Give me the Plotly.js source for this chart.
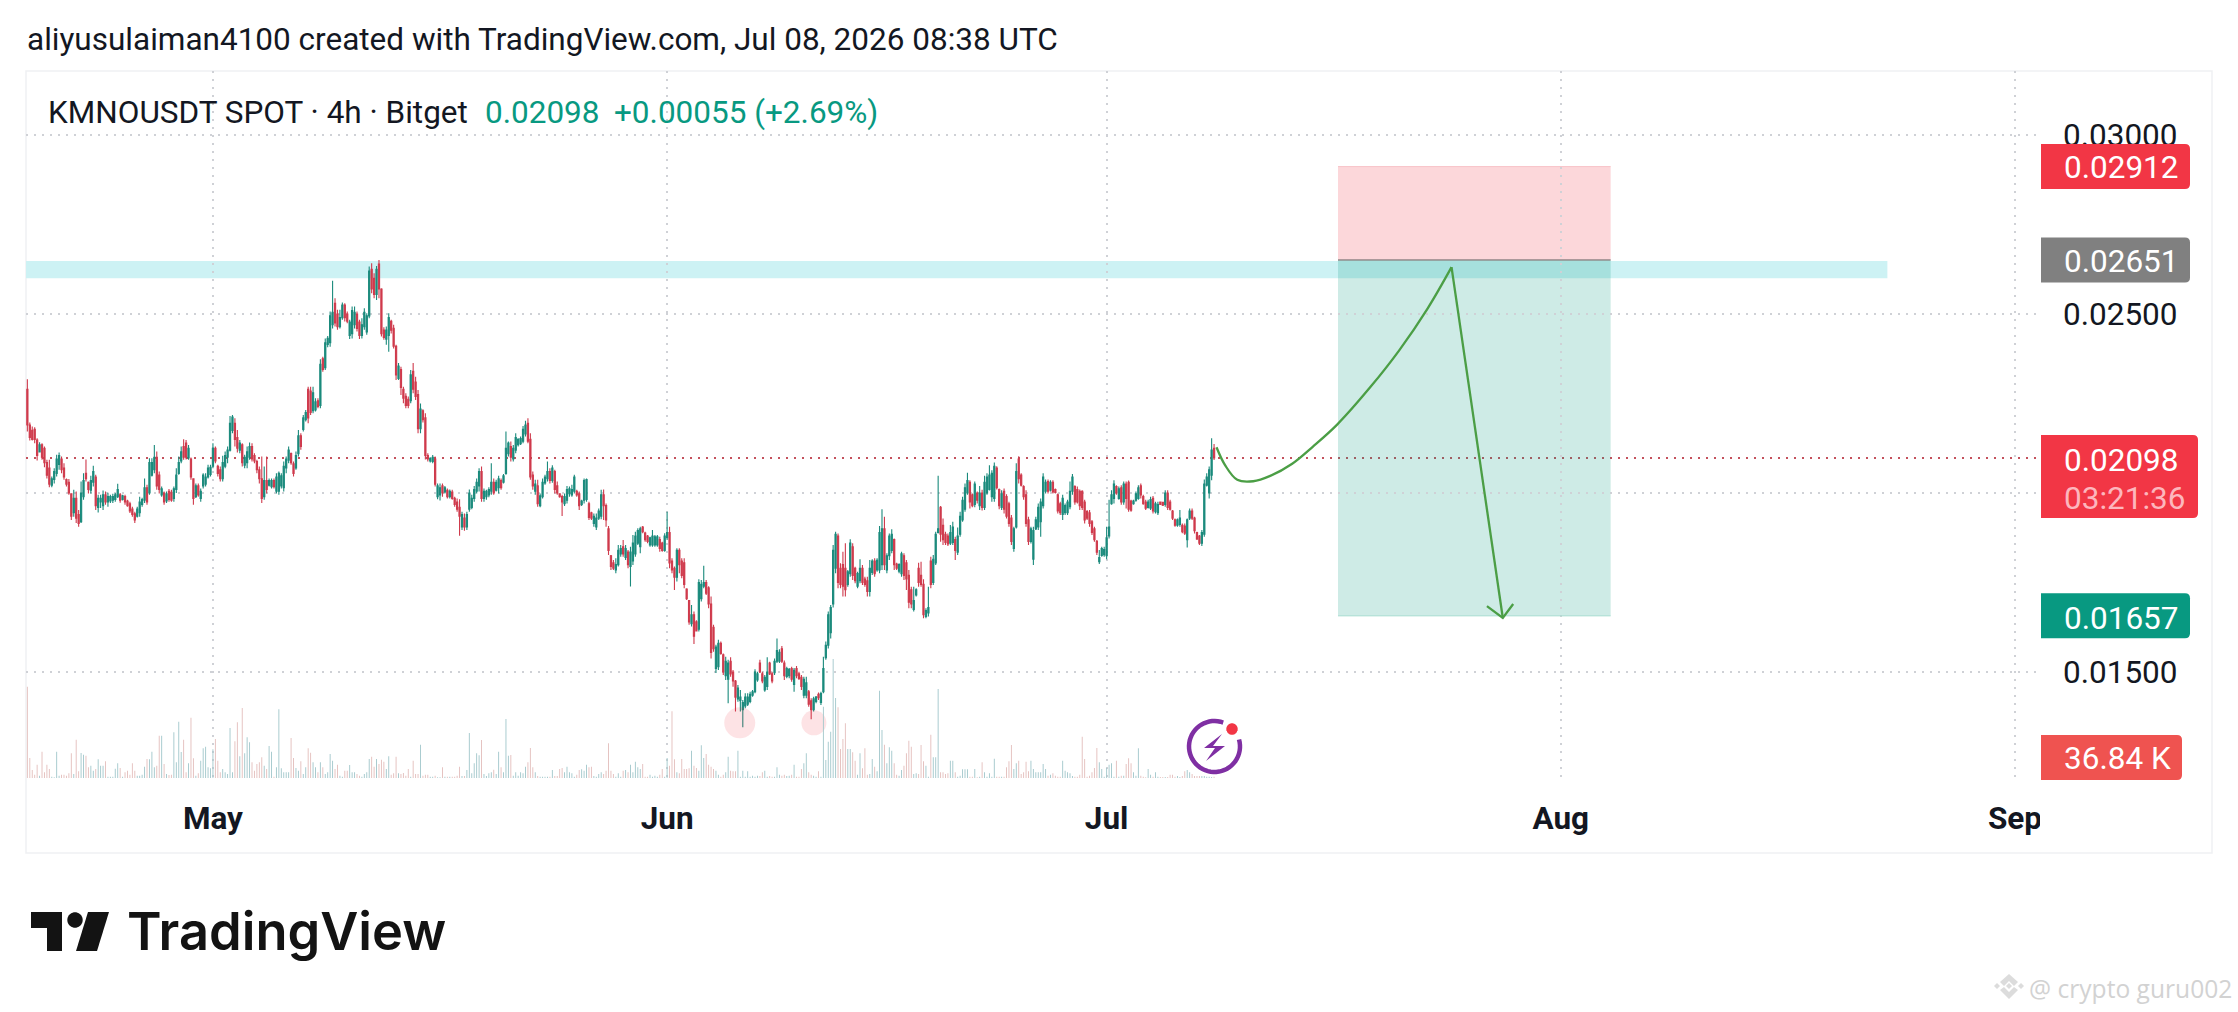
<!DOCTYPE html>
<html><head><meta charset="utf-8">
<script src="https://cdn.plot.ly/plotly-3.0.1.min.js"></script>
<style>html,body{margin:0;padding:0;background:#fff;overflow:hidden}#c{width:2238px;height:1012px}</style>
</head><body><div id="c"></div>
<script>
// Prices are in units of 0.00001 USDT. One 4h candle per entry, from firstCandle on.
const UNIT = 1e-5;
const firstCandle = '2026-04-18T08:00:00Z';
const high = [
2318,2197,2186,2184,2153,2142,2139,2130,2093,2093,
2046,2069,2107,2113,2102,2083,2041,2039,1999,2009,
2004,1953,2032,2055,2094,2032,2048,2076,2051,1995,
1995,2007,2004,2001,1995,1998,2000,2026,2000,1995,
1995,1981,1976,1962,1948,1962,1990,1987,2041,2023,
2097,2097,2134,2116,2060,2018,2004,2004,2011,2009,
2018,2069,2102,2130,2150,2148,2134,2099,2041,2027,
2027,2013,2055,2055,2079,2079,2139,2130,2079,2074,
2104,2116,2130,2215,2218,2209,2176,2148,2139,2107,
2130,2141,2139,2111,2093,2074,2102,2074,2102,2041,
2041,2041,2055,2060,2055,2088,2102,2130,2113,2088,
2116,2176,2167,2218,2232,2297,2297,2297,2265,2265,
2374,2381,2432,2439,2507,2593,2544,2512,2512,2532,
2530,2507,2484,2521,2521,2507,2484,2488,2516,2502,
2633,2642,2614,2634,2651,2572,2463,2465,2502,2484,
2470,2414,2363,2353,2297,2279,2270,2344,2363,2325,
2288,2250,2234,2223,2111,2100,2106,2102,2027,2027,
2027,2020,2013,2010,2009,1990,1985,1983,1948,1943,
1948,2010,1995,2020,2041,2069,2074,2013,2009,2016,
2083,2041,2037,2048,2041,2053,2172,2144,2144,2134,
2167,2153,2158,2187,2202,2209,2167,2060,2037,2037,
1999,2041,2051,2088,2069,2078,2065,2032,1999,1995,
1999,2020,2018,2023,2051,2009,2004,1981,2041,2041,
1976,1948,1943,1943,1957,2009,2010,1971,1908,1827,
1813,1818,1855,1855,1869,1855,1841,1850,1883,1892,
1902,1906,1908,1892,1883,1878,1897,1883,1883,1878,
1864,1888,1948,1906,1818,1795,1846,1846,1818,1818,
1734,1701,1687,1669,1645,1759,1757,1797,1757,1740,
1711,1632,1576,1590,1585,1552,1543,1534,1541,1506,
1478,1464,1450,1422,1441,1441,1445,1450,1508,1501,
1534,1501,1492,1541,1529,1501,1538,1594,1564,1573,
1532,1515,1511,1515,1511,1517,1501,1492,1487,1487,
1450,1427,1431,1433,1443,1445,1543,1585,1669,1687,
1855,1892,1887,1804,1836,1860,1785,1871,1860,1794,
1780,1815,1799,1766,1766,1813,1815,1818,1818,1908,
1955,1934,1832,1887,1899,1873,1805,1804,1836,1832,
1813,1785,1738,1738,1734,1805,1808,1759,1678,1738,
1822,1827,1892,2048,1964,1929,1892,1887,1911,1920,
1878,1904,1948,1990,2027,2057,2036,1999,2032,2004,
2020,2009,2048,2055,2078,2064,2085,2075,2013,2008,
2013,1997,1976,1939,1906,2083,2103,2055,2022,2008,
1934,1906,1906,1934,1971,1985,2055,2038,2038,2036,
2036,2013,1999,1976,1995,1971,1981,2032,2053,2022,
2018,2010,2008,1981,1953,1953,1925,1906,1869,1841,
1850,1850,1906,1981,2008,2036,2022,2018,2022,2032,
2032,2035,1981,1981,2004,2022,2027,1995,1981,1981,
1990,1992,1976,1976,1976,1976,2008,2008,1981,1953,
1929,1929,1953,1915,1915,1929,1957,1957,1934,1892,
1883,1897,2038,2055,2074,2153,2137];
const low = [
2172,2147,2147,2139,2091,2113,2093,2072,2041,2016,
2016,2027,2046,2065,2055,2037,2018,1995,1925,1934,
1916,1906,1916,1981,2032,1999,1999,2018,1953,1946,
1958,1953,1967,1962,1972,1972,1976,1986,1973,1979,
1967,1962,1944,1934,1916,1932,1934,1962,1972,1967,
1995,2046,2055,2009,1999,1990,1967,1972,1976,1976,
1976,2000,2051,2083,2093,2094,2093,2037,1967,1986,
1990,1976,2013,2018,2041,2046,2069,2083,2046,2032,
2032,2069,2083,2116,2167,2130,2113,2111,2074,2069,
2069,2093,2088,2083,2055,2027,1972,1981,1999,2018,
2013,2013,1999,1995,2013,2004,2055,2083,2079,2046,
2065,2102,2121,2172,2200,2195,2218,2223,2228,2237,
2237,2339,2344,2407,2409,2460,2465,2456,2460,2484,
2479,2474,2430,2432,2460,2451,2430,2432,2456,2442,
2488,2558,2544,2539,2544,2437,2428,2414,2395,2446,
2404,2316,2316,2274,2251,2237,2237,2251,2279,2260,
2167,2167,2197,2094,2088,2085,2083,2018,1983,1979,
1990,1999,1985,1985,1981,1962,1948,1881,1897,1895,
1897,1948,1955,1976,1999,2004,1976,1976,1981,1988,
1995,1995,2004,1999,2009,2027,2051,2102,2088,2088,
2111,2130,2134,2139,2158,2139,2037,2009,1995,1962,
1960,1985,2023,2032,2027,2029,1999,1995,1987,1936,
1964,1971,1990,1990,1999,1990,1953,1964,1971,1976,
1925,1925,1906,1897,1925,1927,1925,1906,1827,1785,
1785,1776,1795,1822,1822,1813,1790,1739,1799,1822,
1855,1832,1888,1864,1860,1850,1850,1850,1850,1836,
1836,1836,1869,1790,1776,1729,1753,1776,1762,1734,
1701,1632,1627,1578,1613,1613,1697,1734,1715,1678,
1538,1557,1497,1506,1548,1492,1478,1413,1487,1459,
1390,1417,1390,1346,1399,1405,1413,1431,1441,1473,
1497,1469,1445,1450,1492,1469,1492,1525,1525,1525,
1478,1483,1483,1473,1445,1483,1478,1450,1427,1427,
1403,1368,1390,1413,1422,1408,1441,1534,1566,1594,
1680,1776,1734,1734,1711,1711,1738,1766,1757,1748,
1734,1748,1743,1738,1711,1711,1771,1766,1780,1776,
1785,1785,1776,1813,1832,1785,1785,1776,1766,1757,
1729,1678,1678,1669,1711,1738,1738,1650,1650,1655,
1734,1743,1799,1887,1864,1855,1855,1852,1855,1855,
1813,1827,1878,1920,1948,1995,1957,1960,1960,1971,
1953,1951,1953,1995,2007,1976,1976,2010,1955,1953,
1943,1929,1906,1855,1836,1901,2027,2018,1981,1906,
1855,1859,1799,1897,1897,1878,1957,1999,1999,2004,
1999,1999,1943,1939,1925,1939,1939,1955,1995,1967,
1971,1953,1953,1915,1925,1906,1883,1864,1827,1802,
1822,1822,1815,1873,1967,1971,1995,1981,1967,1967,
1957,1948,1948,1967,1976,1981,1985,1967,1953,1957,
1953,1943,1943,1939,1967,1964,1962,1953,1951,1925,
1906,1906,1906,1888,1883,1848,1925,1925,1887,1869,
1855,1852,1878,2018,1985,2036,2092];
const open = [
2290,2190,2175,2178,2148,2115,2135,2125,2085,2070,
2022,2038,2055,2080,2095,2070,2038,2030,1998,1945,
1985,1940,1920,1990,2055,2030,2008,2030,2045,1960,
1975,1965,1995,1975,1978,1980,1982,1990,1995,1982,
1990,1978,1970,1955,1942,1935,1945,1968,1980,2015,
2000,2050,2065,2100,2050,1995,2000,1978,2005,2002,
1985,2010,2055,2090,2130,2140,2098,2095,2040,1990,
2020,1985,2020,2025,2045,2052,2075,2125,2075,2065,
2040,2075,2100,2120,2175,2195,2155,2120,2135,2078,
2085,2100,2130,2105,2088,2065,2040,1990,2035,2022,
2018,2035,2005,2005,2020,2015,2070,2092,2110,2082,
2070,2110,2160,2178,2205,2290,2285,2230,2232,2258,
2245,2375,2350,2415,2420,2470,2530,2500,2465,2490,
2525,2500,2440,2445,2470,2500,2478,2440,2465,2450,
2495,2625,2600,2555,2640,2570,2455,2430,2440,2480,
2460,2410,2320,2345,2290,2270,2262,2258,2340,2310,
2275,2180,2230,2210,2105,2090,2088,2095,1990,1995,
2020,2003,2008,1990,2003,1985,1975,1960,1905,1930,
1905,1955,1960,1985,2005,2020,2060,1985,1990,1995,
2005,2030,2008,2015,2035,2030,2055,2110,2130,2095,
2120,2135,2138,2145,2165,2195,2150,2050,2005,2020,
1965,1990,2028,2040,2060,2035,2060,2020,1998,1990,
1970,1980,1998,1995,2005,2005,1998,1968,1980,1982,
1970,1945,1915,1905,1930,1935,1995,1965,1900,1825,
1805,1785,1800,1830,1850,1820,1835,1795,1810,1830,
1860,1850,1905,1888,1880,1855,1855,1855,1855,1870,
1860,1840,1875,1890,1810,1790,1765,1840,1810,1805,
1732,1700,1635,1660,1640,1620,1705,1740,1750,1735,
1690,1625,1510,1515,1580,1548,1490,1480,1530,1500,
1475,1425,1420,1395,1405,1410,1418,1435,1445,1478,
1525,1495,1450,1460,1525,1495,1498,1530,1530,1565,
1525,1488,1490,1510,1465,1510,1495,1485,1435,1435,
1445,1420,1395,1418,1438,1415,1445,1540,1575,1610,
1690,1790,1880,1790,1800,1790,1745,1775,1850,1790,
1740,1755,1790,1760,1755,1725,1778,1810,1785,1785,
1800,1900,1785,1825,1840,1870,1802,1782,1775,1825,
1805,1770,1730,1675,1715,1790,1770,1745,1655,1665,
1810,1750,1805,1890,1960,1910,1885,1880,1860,1862,
1870,1835,1885,1925,1955,2000,2030,1995,1968,2000,
1965,2000,1960,2000,2010,1990,1985,2070,2010,1960,
2005,1990,1970,1930,1845,1905,2095,2050,2018,1995,
1925,1865,1815,1900,1905,1920,1965,2005,2032,2008,
2030,2010,1995,1970,1940,1945,1945,1962,2005,2018,
2010,2005,2005,1975,1948,1945,1920,1900,1865,1808,
1826,1828,1825,1880,1970,1985,2018,1985,2015,1975,
2025,2030,1978,1970,1980,1985,2020,1990,1975,1960,
1958,1985,1948,1945,1975,1974,1968,2000,1975,1950,
1925,1910,1912,1910,1908,1870,1930,1950,1930,1890,
1880,1860,1885,2022,2000,2050,2125];
const close = [
2190,2155,2150,2150,2105,2135,2100,2085,2050,2025,
2040,2060,2095,2105,2065,2045,2025,2000,1935,1985,
1930,1915,2000,2035,2040,2010,2035,2060,1965,1985,
1985,1995,1975,1990,1990,1990,1995,2010,1980,1992,
1975,1965,1950,1940,1925,1955,1975,1982,2015,1975,
2085,2085,2100,2020,2010,2012,1975,1998,1982,1980,
2012,2050,2085,2115,2100,2100,2125,2045,1985,2020,
1995,2005,2050,2045,2070,2072,2125,2090,2055,2040,
2085,2105,2120,2195,2212,2150,2125,2140,2085,2100,
2115,2130,2095,2090,2065,2040,1985,2035,2010,2035,
2035,2018,2045,2055,2048,2075,2095,2120,2085,2055,
2105,2160,2130,2210,2225,2210,2225,2280,2255,2242,
2360,2345,2420,2432,2495,2505,2475,2465,2490,2525,
2490,2480,2478,2510,2505,2460,2440,2470,2505,2495,
2620,2570,2555,2625,2570,2445,2435,2455,2490,2455,
2410,2330,2355,2295,2265,2245,2245,2330,2290,2270,
2180,2235,2205,2105,2095,2097,2100,2025,2020,2015,
2000,2015,1990,2005,1985,1968,1955,1935,1940,1905,
1940,2000,1985,2010,2030,2060,1985,2005,2005,2010,
2030,2000,2030,2040,2015,2048,2125,2140,2100,2125,
2155,2150,2152,2178,2190,2145,2045,2020,2025,1970,
1992,2030,2045,2060,2035,2070,2010,2000,1990,1975,
1990,2010,2012,2010,2045,1995,1965,1978,2035,2038,
1932,1930,1935,1930,1950,1995,1965,1925,1840,1795,
1790,1800,1840,1845,1830,1845,1800,1835,1860,1880,
1895,1900,1892,1870,1865,1875,1880,1878,1878,1845,
1840,1880,1890,1805,1785,1765,1840,1800,1770,1745,
1705,1640,1660,1600,1615,1750,1745,1750,1720,1690,
1555,1565,1570,1580,1552,1500,1530,1525,1495,1475,
1430,1455,1430,1415,1430,1430,1438,1445,1500,1495,
1500,1475,1485,1500,1495,1475,1530,1560,1555,1530,
1490,1510,1508,1480,1505,1490,1482,1460,1480,1470,
1410,1395,1425,1430,1428,1440,1510,1575,1660,1680,
1840,1885,1750,1745,1740,1730,1780,1860,1770,1755,
1775,1790,1750,1745,1725,1790,1810,1775,1812,1890,
1900,1800,1825,1880,1885,1800,1790,1800,1830,1770,
1760,1695,1690,1700,1730,1750,1745,1660,1672,1680,
1745,1815,1885,1900,1885,1870,1862,1858,1890,1905,
1840,1880,1935,1980,2015,2035,1975,1965,2025,1980,
2000,1960,2030,2045,2050,2055,2075,2015,1965,1998,
1955,1935,1915,1865,1900,2060,2040,2022,1990,1915,
1865,1900,1895,1925,1960,1975,2045,2030,2005,2030,
2003,2002,1950,1945,1985,1965,1975,2005,2045,1975,
1975,1965,1960,1925,1930,1915,1890,1870,1835,1820,
1845,1842,1875,1905,1995,2025,2000,2012,1975,2025,
1985,1955,1952,1978,1998,2015,1995,1970,1958,1975,
1982,1950,1970,1968,1968,1966,2000,1960,1955,1930,
1910,1925,1930,1892,1888,1925,1950,1930,1895,1872,
1860,1890,2025,2045,2065,2120,2098];
// Volume per candle, in thousands of base units.
const volumeK = [
2740,600,240,100,400,70,790,170,400,270,
40,20,790,70,100,100,70,140,740,120,
1150,200,750,700,670,320,370,220,270,560,
370,370,500,40,40,40,280,440,300,40,
170,220,100,440,220,70,70,100,340,570,
560,790,320,370,1270,1270,420,120,90,100,
1370,470,1690,780,1150,170,440,1810,590,70,
140,520,890,940,320,290,860,1170,520,170,
270,170,120,1500,170,1100,1670,650,2100,740,
1220,1070,470,220,420,470,620,370,270,960,
790,40,320,2060,290,170,170,170,1200,600,
300,220,500,120,320,890,760,470,320,170,
470,320,120,170,720,520,270,400,70,40,
220,220,390,170,170,120,70,40,120,170,
570,640,340,570,420,550,490,270,650,100,
140,640,140,120,150,70,270,40,520,120,
120,1000,70,100,100,40,40,70,20,20,
320,40,40,40,40,40,70,340,60,60,
240,1350,140,440,740,680,1140,120,60,140,
170,250,120,790,320,170,1770,670,690,70,
170,70,170,140,340,470,900,320,170,60,
40,40,40,40,40,240,60,60,270,300,
170,340,170,140,40,100,240,260,220,400,
320,340,60,40,120,170,120,220,1040,220,
120,40,140,40,220,240,170,400,170,490,
320,270,420,40,40,100,40,70,40,100,
270,40,600,370,2000,560,170,140,570,270,
270,290,820,370,300,220,980,600,720,400,
340,270,220,100,40,100,170,640,220,200,
200,820,40,220,40,200,40,70,40,70,
60,170,220,40,60,40,40,320,100,70,
100,60,70,100,400,40,40,270,440,740,
170,100,70,40,200,40,2140,540,1090,1390,
3570,2400,2120,870,1170,1640,870,870,770,520,
100,740,290,890,100,120,570,340,200,2620,
1440,1000,440,920,820,440,100,70,240,370,
740,1120,940,120,140,120,990,500,370,40,
1300,620,620,2670,170,170,120,140,520,520,
170,40,70,260,260,260,40,40,270,20,
40,470,170,40,140,40,580,40,40,40,
40,320,500,990,270,440,520,120,170,490,
200,520,270,170,170,170,420,270,70,100,
140,70,40,40,520,220,170,140,60,40,
40,100,1240,570,40,70,170,300,900,470,
270,40,300,400,440,40,520,40,70,70,
420,590,440,170,70,890,70,40,20,270,
100,40,170,40,30,30,30,30,100,100,
40,60,30,60,200,240,170,120,60,60,
60,60,60,40,40,30,36.84];
const monthTicks = ['2026-05-01','2026-06-01','2026-07-01','2026-08-01','2026-09-01'];
const monthLabels = ['May','Jun','Jul','Aug','Sep'];
const priceTicks = [1500,2000,2500,3000];
// The 0.02000 label sits behind the last-price tag in the reference, so it has no visible text.
const priceTickLabels = ['0.01500','','0.02500','0.03000'];
const lastPrice = 2098;
const stopPrice = 2912, entryPrice = 2651, targetPrice = 1657;
const boxStart = '2026-07-16T19:00:00Z', boxEnd = '2026-08-04T09:40:00Z';
const zoneTop = 2648, zoneBottom = 2600, zoneEnd = '2026-08-23T07:00:00Z';
const dipDates = ['2026-06-05T23:00:00Z','2026-06-11T00:30:00Z'];
const dipPrices = [1358,1358];
const dipSizes = [31,25];
const pathDates = ['2026-07-08T12:00:00Z','2026-07-09T02:00:00Z','2026-07-09T22:00:00Z','2026-07-11T00:00:00Z','2026-07-12T04:00:00Z','2026-07-13T16:00:00Z','2026-07-15T02:00:00Z','2026-07-16T18:00:00Z','2026-07-19T00:00:00Z','2026-07-20T23:00:00Z','2026-07-22T22:00:00Z','2026-07-24T13:00:00Z'];
const pathPrices = [2128,2078,2037,2033,2048,2082,2130,2192,2296,2398,2516,2631];
const dropDates = ['2026-07-24T13:00:00Z','2026-07-28T01:00:00Z'];
const dropPrices = [2631,1651];
const headDates = ['2026-07-26T23:00:00Z','2026-07-28T01:00:00Z','2026-07-28T18:00:00Z'];
const headPrices = [1684,1651,1690];

const W=2238,H=1012,L=26,R=2040,T=71,B=778;
const px=x=>(x-L)/(R-L), py=y=>(B-y)/(B-T);
const FONT='Roboto, sans-serif';
const GREEN='#089981',RED='#f23645';
const t0=Date.parse(firstCandle);
const dates=high.map((_,i)=>new Date(t0+i*4*3600e3).toISOString());
const p=a=>a.map(v=>v*UNIT);

function poly(points,close){return 'M '+points.map(q=>px(q[0])+' '+py(q[1])).join(' L ')+(close?' Z':'');}
function arc(cx,cy,r,a0,a1){const pts=[];const n=48;for(let i=0;i<=n;i++){const a=(a0+(a1-a0)*i/n)*Math.PI/180;pts.push([cx+r*Math.cos(a),cy+r*Math.sin(a)]);}return pts;}
function label(price,hh,w,color,dy){ // rounded price tag anchored on the price scale; dy moves it down in pixels
  const r=5,l=1,o=-(dy||0),t=o+hh,b=o-hh;
  return {type:'path',layer:'above',xref:'paper',yref:'y',xsizemode:'pixel',ysizemode:'pixel',xanchor:1,yanchor:price*UNIT,
    path:`M ${l} ${t} L ${w-r} ${t} Q ${w} ${t} ${w} ${t-r} L ${w} ${b+r} Q ${w} ${b} ${w-r} ${b} L ${l} ${b} Z`,
    fillcolor:color,line:{width:0}};
}
function pxRect(x0,y0,x1,y1,extra){return Object.assign({type:'rect',xref:'paper',yref:'paper',x0:px(x0),x1:px(x1),y0:py(y1),y1:py(y0),layer:'above',line:{width:0}},extra);}
function txt(text,x,y,size,color,extra){return Object.assign({text,xref:'paper',yref:'paper',x:px(x),y:py(y),xanchor:'left',yanchor:'middle',showarrow:false,font:{family:FONT,size,color},borderpad:0},extra||{});}

const traces=[
 {type:'bar',x:dates,y:volumeK,yaxis:'y2',marker:{color:volumeK.map((_,i)=>close[i]>=open[i]?'#a3c8cc':'#e4bfbd'),line:{width:0}},width:4*3600e3*0.38,hoverinfo:'skip'},
 {type:'scatter',mode:'markers',x:dipDates,y:p(dipPrices),marker:{size:dipSizes,color:'rgba(242,54,69,0.2)',line:{width:0}},hoverinfo:'skip'},
 {type:'candlestick',x:dates,open:p(open),high:p(high),low:p(low),close:p(close),
  increasing:{line:{color:'#1a8a7c',width:1.1},fillcolor:'#1a8a7c'},decreasing:{line:{color:'#cf3a4c',width:1.1},fillcolor:'#cf3a4c'},whiskerwidth:0,hoverinfo:'skip'},
 {type:'scatter',mode:'lines',x:pathDates,y:p(pathPrices),line:{color:'#4b9e45',width:2.3,shape:'spline'},hoverinfo:'skip'},
 {type:'scatter',mode:'lines',x:dropDates,y:p(dropPrices),line:{color:'#4b9e45',width:2.3},hoverinfo:'skip'},
 {type:'scatter',mode:'lines',x:headDates,y:p(headPrices),line:{color:'#4b9e45',width:2.3},hoverinfo:'skip'}
];

const shapes=[
 // chart frame
 {type:'rect',xref:'paper',yref:'paper',x0:0,x1:px(2212),y0:py(853),y1:py(71),line:{color:'#f0f1f3',width:1.5},layer:'below'},
 // resistance zone
 {type:'rect',xref:'x',yref:'y',x0:dates[0].slice(0,10)+'T00:00:00Z',x1:zoneEnd,y0:zoneBottom*UNIT,y1:zoneTop*UNIT,fillcolor:'#cdf2f4',line:{width:0},layer:'below'},
 // short position box
 {type:'rect',xref:'x',yref:'y',x0:boxStart,x1:boxEnd,y0:entryPrice*UNIT,y1:stopPrice*UNIT,fillcolor:'rgba(242,54,69,0.2)',line:{width:0},layer:'below'},
 {type:'rect',xref:'x',yref:'y',x0:boxStart,x1:boxEnd,y0:targetPrice*UNIT,y1:entryPrice*UNIT,fillcolor:'rgba(8,153,129,0.2)',line:{width:0},layer:'below'},
 {type:'line',xref:'x',yref:'y',x0:boxStart,x1:boxEnd,y0:entryPrice*UNIT,y1:entryPrice*UNIT,line:{color:'#5c5c5c',width:1.2},layer:'between'},
 {type:'line',xref:'x',yref:'y',x0:boxStart,x1:boxEnd,y0:targetPrice*UNIT,y1:targetPrice*UNIT,line:{color:'#a6dccf',width:1},layer:'between'},
 {type:'line',xref:'x',yref:'y',x0:boxStart,x1:boxEnd,y0:stopPrice*UNIT,y1:stopPrice*UNIT,line:{color:'#f8c3c8',width:1},layer:'between'},
 // last price line
 {type:'line',xref:'paper',yref:'y',x0:0,x1:1,y0:lastPrice*UNIT,y1:lastPrice*UNIT,line:{color:'#c4515c',width:2,dash:'2px,6px'},layer:'between'},
 // clips the last month label at the price scale
 pxRect(2040,795,2056,842,{fillcolor:'#ffffff'}),
 // scale labels
 label(stopPrice,22.5,150,'#f23645'),
 label(entryPrice,22.5,150,'#808080'),
 label(lastPrice,41.5,158,'#f23645',18.5),
 label(targetPrice,22.5,150,'#089981'),
 {type:'path',layer:'above',xref:'paper',yref:'paper',line:{width:0},fillcolor:'#ef5350',
  path:`M ${px(2041)} ${py(735)} L ${px(2177)} ${py(735)} Q ${px(2182)} ${py(735)} ${px(2182)} ${py(740)} L ${px(2182)} ${py(775)} Q ${px(2182)} ${py(780)} ${px(2177)} ${py(780)} L ${px(2041)} ${py(780)} Z`},
 // alert icon
 {type:'path',xref:'paper',yref:'paper',layer:'above',path:poly(arc(1214.5,746.5,25.5,-16,-70+360)),fillcolor:'rgba(0,0,0,0)',line:{color:'#7f2fa3',width:4.5}},
 {type:'path',xref:'paper',yref:'paper',layer:'above',path:poly([[1222,734],[1204,748],[1215,748],[1206,761],[1225,746],[1213,746]],true),fillcolor:'#7f2fa3',line:{width:0}},
 {type:'path',xref:'paper',yref:'paper',layer:'above',path:poly(arc(1232,729,6.7,0,360),true),fillcolor:'#f23645',line:{color:'#ffffff',width:2}},
 // TradingView logo mark
 {type:'path',xref:'paper',yref:'paper',layer:'above',path:poly([[31,912],[62,912],[62,951],[47,951],[47,928],[31,928]],true),fillcolor:'#131313',line:{width:0}},
 {type:'path',xref:'paper',yref:'paper',layer:'above',path:poly(arc(75,920,7.7,0,360),true),fillcolor:'#131313',line:{width:0}},
 {type:'path',xref:'paper',yref:'paper',layer:'above',path:poly([[88,912],[109,912],[97,951],[76,951]],true),fillcolor:'#131313',line:{width:0}},
 // watermark mark
 {type:'path',xref:'paper',yref:'paper',layer:'above',path:poly([[2009,974],[2018,982],[2014,986],[2009,981],[2004,986],[2000,982]],true),fillcolor:'#dcdcdc',line:{width:0}},
 {type:'path',xref:'paper',yref:'paper',layer:'above',path:poly([[2009,999],[2018,990],[2014,987],[2009,992],[2004,987],[2000,990]],true),fillcolor:'#dcdcdc',line:{width:0}},
 {type:'path',xref:'paper',yref:'paper',layer:'above',path:poly([[2009,983],[2012,986],[2009,989],[2006,986]],true),fillcolor:'#dcdcdc',line:{width:0}},
 {type:'path',xref:'paper',yref:'paper',layer:'above',path:poly([[1997,983],[2000,986],[1997,989],[1994,986]],true),fillcolor:'#dcdcdc',line:{width:0}},
 {type:'path',xref:'paper',yref:'paper',layer:'above',path:poly([[2021,983],[2024,986],[2021,989],[2018,986]],true),fillcolor:'#dcdcdc',line:{width:0}}
];

const annotations=[
 txt('aliyusulaiman4100 created with TradingView.com, Jul 08, 2026 08:38 UTC',26,40,31.5,'#131722'),
 txt('KMNOUSDT SPOT · 4h · Bitget',47,112,31.5,'#131722'),
 txt('0.02098',484,112,31.5,GREEN),
 txt('+0.00055 (+2.69%)',613,112,31.5,GREEN),
 txt('0.02912',2063,168,31.5,'#ffffff'),
 txt('0.02651',2063,261,31.5,'#ffffff'),
 txt('0.02098',2063,461,31.5,'#ffffff'),
 txt('03:21:36',2063,498,31.5,'#fdb6bd'),
 txt('0.01657',2063,618,31.5,'#ffffff'),
 txt('36.84 K',2063,758,31.5,'#ffffff'),
 txt('TradingView',126,931,52.4,'#131313',{font:{family:'Inter, sans-serif',size:52.4,color:'#131313',weight:600}}),
 txt('@ crypto guru002',2028,988,24.6,'#d2d2d2',{font:{family:'"Open Sans", sans-serif',size:24.6,color:'#d2d2d2'}})
];

const layout={
 width:W,height:H,paper_bgcolor:'#ffffff',plot_bgcolor:'#ffffff',showlegend:false,
 margin:{l:L,r:W-R,t:T,b:H-B,pad:0},barmode:'overlay',
 xaxis:{type:'date',range:['2026-04-18T05:46:00Z','2026-09-02T17:00:00Z'],rangeslider:{visible:false},
  tickmode:'array',tickvals:monthTicks,ticktext:monthLabels,ticklen:0,ticklabelstandoff:18,
  tickfont:{family:FONT,size:31.5,color:'#131722',weight:700},
  showgrid:true,gridcolor:'#cfd1d6',griddash:'2px,6px',gridwidth:2,zeroline:false,showline:false},
 yaxis:{side:'right',range:[0.01204,0.03179],tickmode:'array',tickvals:p(priceTicks),ticktext:priceTickLabels,ticklen:0,ticklabelstandoff:22,
  tickfont:{family:FONT,size:31.5,color:'#131722'},
  showgrid:true,gridcolor:'#cfd1d6',griddash:'2px,6px',gridwidth:2,zeroline:false,showline:false},
 yaxis2:{overlaying:'y',side:'left',range:[0,21210],visible:false,fixedrange:true},
 shapes,annotations
};
Plotly.newPlot('c',traces,layout,{staticPlot:true,displayModeBar:false});
</script></body></html>
